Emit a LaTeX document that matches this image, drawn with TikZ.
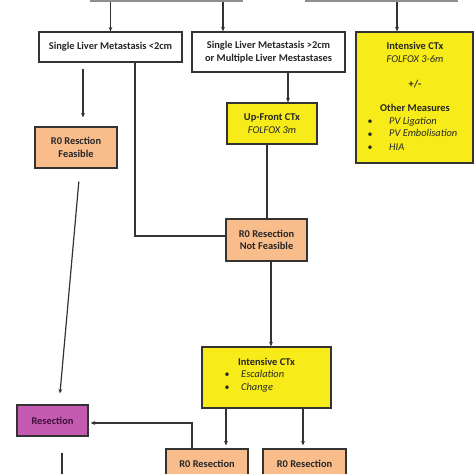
\documentclass[tikz,border=0pt]{standalone}
\usepackage{fontspec}
\setmainfont{Carlito}
\usetikzlibrary{arrows.meta}
\definecolor{peach}{HTML}{F9BD8C}
\definecolor{ylw}{HTML}{F7EC1A}
\definecolor{purp}{HTML}{C45BB0}
\definecolor{edge}{HTML}{333333}
\definecolor{txt}{HTML}{262626}
\definecolor{ptxt}{HTML}{3D0F3A}
\definecolor{bargray}{HTML}{8F8F8F}
\begin{document}
\begin{tikzpicture}[x=1pt,y=-1pt,
  box/.style={draw=edge, line width=1.2pt, inner sep=0pt, align=center, text=txt,
    font=\bfseries\fontsize{10.4}{12.5}\selectfont},
  lbl/.style={inner sep=0pt, text=txt, font=\bfseries\fontsize{10.4}{12.5}\selectfont},
  ilbl/.style={inner sep=0pt, text=txt, font=\itshape\fontsize{10.4}{12.5}\selectfont},
  bul/.style={inner sep=0pt, text=txt, font=\fontsize{10}{12.5}\selectfont},
  bar/.style={fill=bargray, inner sep=0pt},
  conn/.style={draw=edge, line width=1.2pt},
  arr/.style={conn, -{Stealth[length=4.5pt,width=3.8pt]}}]
\useasboundingbox (0,0) rectangle (474,474);
\clip (0,0) rectangle (474,474);
% top bars
\node[bar, minimum width=153pt, minimum height=4pt] (bar1) at (166.5,0) {};
\node[bar, minimum width=153pt, minimum height=4pt] (bar2) at (381.5,0) {};
% boxes
\node[box, fill=white, minimum width=143pt, minimum height=30pt] (box1) at (110.5,47) {Single Liver Metastasis <2cm};
\node[box, fill=white, minimum width=153pt, minimum height=40pt] (box2) at (268.5,52) {Single Liver Metastasis >2cm\\or Multiple Liver Mestastases};
\node[box, fill=ylw, minimum width=117pt, minimum height=131pt] (box3) at (414.5,97.5) {};
\node[box, fill=ylw, minimum width=90pt, minimum height=41pt] (up) at (272,123.5) {Up-Front CTx\\\textit{\mdseries FOLFOX 3m}};
\node[box, fill=peach, minimum width=82pt, minimum height=41pt] (r0f) at (76,147.5) {R0 Resction\\Feasible};
\node[box, fill=peach, minimum width=81pt, minimum height=42pt] (r0nf) at (266.5,240) {R0 Resection\\Not Feasible};
\node[box, fill=ylw, minimum width=129pt, minimum height=61pt] (ic2) at (266.5,377.5) {};
\node[box, fill=purp, text=ptxt, minimum width=71pt, minimum height=31pt] (res) at (52.5,420.5) {Resection};
\node[box, fill=peach, minimum width=82pt, minimum height=41pt] (r0a) at (207,469.5) {};
\node[box, fill=peach, minimum width=83pt, minimum height=41pt] (r0b) at (304.5,469.5) {};
% texts of box3
\node[lbl, anchor=mid] (b3a) at (415,47) {Intensive CTx};
\node[ilbl, anchor=mid] (b3b) at (415,60) {FOLFOX 3-6m};
\node[lbl, anchor=mid] (b3c) at (415,85) {+/-};
\node[lbl, anchor=mid] (b3d) at (415,109) {Other Measures};
\node[bul, anchor=mid] (b3e) at (370,122) {\textbullet};
\node[bul, anchor=mid] (b3f) at (370,135) {\textbullet};
\node[bul, anchor=mid] (b3g) at (370,148) {\textbullet};
\node[ilbl, anchor=mid west] (b3h) at (389,122) {PV Ligation};
\node[ilbl, anchor=mid west] (b3i) at (389,134) {PV Embolisation};
\node[ilbl, anchor=mid west] (b3j) at (389,148) {HIA};
% texts of ic2
\node[lbl, anchor=mid] (c2a) at (266.5,363) {Intensive CTx};
\node[bul, anchor=mid] (c2b) at (227,375) {\textbullet};
\node[bul, anchor=mid] (c2c) at (227,388) {\textbullet};
\node[ilbl, anchor=mid west] (c2d) at (241,375) {Escalation};
\node[ilbl, anchor=mid west] (c2e) at (241,388) {Change};
% texts of bottom boxes
\node[lbl, anchor=mid] (r0at) at (207,465) {R0 Resection};
\node[lbl, anchor=mid] (r0bt) at (304.5,465) {R0 Resection};
% connectors
\draw[arr] (box1.north |- bar1.south) -- (box1.north);
\draw[arr] ([xshift=-45.5pt]box2.north |- bar1.south) -- ([xshift=-45.5pt]box2.north);
\draw[arr] ([xshift=-17.5pt]box3.north |- bar2.south) -- ([xshift=-17.5pt]box3.north);
\draw[arr, shorten <=6pt, shorten >=9pt] ([xshift=-27.5pt]box1.south) -- ([xshift=7pt]r0f.north);
\draw[arr, shorten <=13pt, shorten >=11pt] ([xshift=4pt]r0f.south) -- ([xshift=6.5pt]res.north);
\draw[conn] ([xshift=24.5pt]box1.south) |- ([yshift=4pt]r0nf.west);
\draw[arr] ([xshift=19.5pt]box2.south) -- ([xshift=19.5pt]box2.south |- up.north);
\draw[conn] ([xshift=0.5pt]r0nf.north |- up.south) -- ([xshift=0.5pt]r0nf.north);
\draw[arr] ([xshift=4.5pt]r0nf.south) -- ([xshift=4.5pt]ic2.north);
\draw[arr, shorten >=3pt] ([xshift=19pt]r0a.north |- ic2.south) -- ([xshift=19pt]r0a.north);
\draw[arr, shorten >=3pt] ([xshift=-1.5pt]r0b.north |- ic2.south) -- ([xshift=-1.5pt]r0b.north);
\draw[arr, shorten >=2pt] ([xshift=-15pt]r0a.north) |- ([yshift=-2.5pt]res.east);
\coordinate (resend) at (62,478);
\draw[conn, shorten <=16pt] (res.south -| resend) -- (resend);
\end{tikzpicture}
\end{document}
